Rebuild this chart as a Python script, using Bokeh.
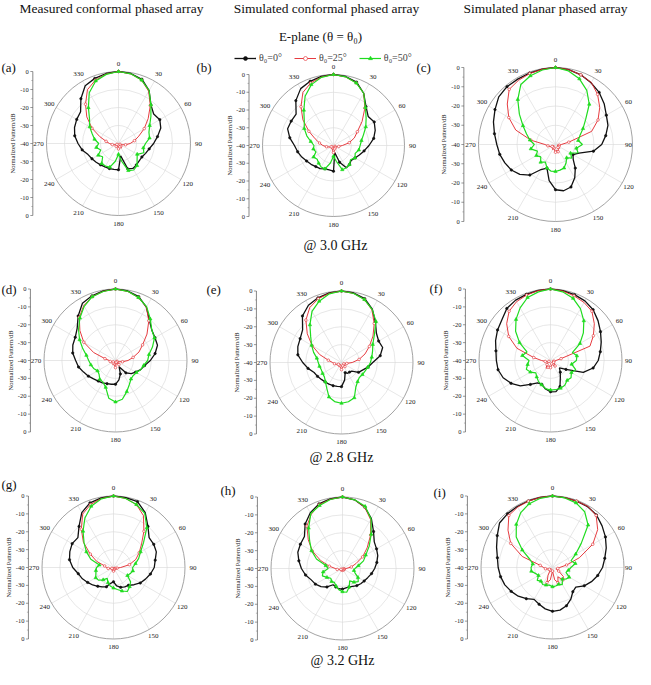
import numpy as np
from bokeh.plotting import figure
from bokeh.models import Range1d, Legend, LegendItem
from bokeh.embed import file_html
from bokeh.resources import INLINE
from bokeh.core.properties import value

# ---------------- data (dB at angles 0..350 step 10, clockwise from top) ----------------
ANGLES = list(range(0, 360, 10))

A_BLACK = [0,-0.5,-2,-6,-12,-14.5,-13.5,-15,-18,-20.5,-22.7,-24,-25,-25,-24.5,-24,-25,-33,-25.4,-25.4,
           -25.2,-25,-24.5,-23.8,-23,-22,-19.5,-17.5,-15.3,-14,-13.2,-12.5,-7.5,-3,-1.5,-0.5]
A_RED = [0,-0.8,-2.5,-6.5,-12.5,-18.5,-23.5,-28,-31,-33.5,-36,-38,-39,-39,-38,-37,-38,-39,-37,-38,
         -39,-39,-38,-39,-39,-38,-36.5,-35,-33,-29,-23,-17,-11.5,-5.5,-2.5,-0.8]
A_GREEN = [0,-0.7,-2.5,-6,-12,-16.5,-20,-22,-22.5,-25,-26,-25,-28,-26.5,-24,-23,-24,-30,-34,-30,
           -26,-25.5,-25.5,-28.5,-27,-29.5,-27.5,-29,-26.5,-24.5,-21.5,-19,-14,-7.5,-3,-1]

B_BLACK = [0,-0.5,-2,-6,-11.5,-14.5,-13.5,-15,-17,-20,-22.5,-24.5,-26,-27,-26,-25.5,-30,-36,-25.5,-26,
           -26,-25,-24.5,-23.5,-22.5,-21,-19.5,-18,-15,-12.5,-12.5,-12.5,-7,-3,-1.5,-0.5]
B_RED = [0,-0.8,-2.5,-6,-12.5,-19,-24.5,-27.5,-31,-35,-37,-38,-39,-39,-38.5,-38,-38,-37,-36,-37,
         -38.5,-39,-39,-39,-38.5,-37.5,-36,-34,-32,-29,-24,-17.5,-11.5,-5.5,-2.5,-0.8]
B_GREEN = [0,-0.7,-2.5,-6,-12,-16,-19,-22,-24,-25,-25.5,-27,-26,-27.5,-26,-25.5,-25.5,-31,-34,-30,
           -26,-26,-27,-28,-27,-29.5,-28.5,-29,-27,-24,-21,-18.5,-14,-8,-3.5,-1]

C_BLACK = [0,-0.5,-1.5,-3,-4.7,-7,-9.5,-11,-13.5,-16,-20,-27,-29.5,-28,-24,-20,-16.5,-15.6,-16.5,-21,
           -27,-25,-19.3,-15.8,-13.5,-12,-10.6,-9.5,-7.8,-5.7,-3.7,-1.5,-0.8,-0.8,-0.5,-0.2]
C_RED = [0,-0.5,-1.5,-2.8,-6,-10,-14.5,-20,-33,-37,-38,-39,-38,-37,-38,-37,-36,-37,-36,-37,
         -38,-37,-38,-39,-38,-37,-36,-34.5,-27,-18,-12,-7.3,-2.6,-1.5,-0.8,-0.3]
C_GREEN = [0,-1.2,-3.7,-7.5,-12.7,-19.5,-23.5,-26.5,-28,-26,-29,-27.5,-31,-29,-31,-29,-27,-26.5,-26,-26,
           -27,-29.5,-28,-30,-28.5,-30,-27,-29,-26.5,-24,-20.5,-15.5,-9.5,-4,-2,-0.7]

D_BLACK = [0,-0.5,-2,-5.5,-10.5,-13.5,-14.5,-15,-17.5,-20.5,-23.5,-25,-27,-28.5,-31,-36,-32,-29,-26.7,-26.5,
           -26.2,-25.5,-25,-24,-22.5,-21,-19,-17.7,-15.7,-14.6,-14,-12,-7.5,-3,-1.5,-0.5]
D_RED = [0,-0.8,-2.5,-5.5,-11,-17,-22.5,-26,-30,-33,-36,-38,-39,-38,-37,-38,-39,-38,-36,-37,
         -38,-39,-38,-39,-38.5,-38,-37,-36.5,-34,-27,-19.5,-14,-8.5,-4.5,-2,-0.7]
D_GREEN = [0,-0.7,-2.5,-5.2,-9.7,-13.5,-14.8,-18,-21,-22,-24,-25,-26.5,-27,-26.5,-24.5,-21.5,-18,-16.8,-18.5,
           -24,-26,-26.3,-28,-28.4,-27,-26,-25,-23.5,-20.5,-16.8,-13,-9,-5,-2,-0.8]

E_BLACK = [0,-0.5,-2,-5.5,-10.5,-14.5,-16,-15.5,-18,-22.5,-25,-27.5,-29,-32.5,-33,-33,-34,-30,-26.5,-26.4,
           -26.2,-26,-25.8,-25.3,-24.5,-23.7,-21,-18.3,-15.2,-14,-13.3,-11.6,-6,-3,-1.5,-0.5]
E_RED = [0,-0.8,-2.5,-6,-11.5,-17,-22,-26,-30,-34,-37,-38,-38.5,-38,-37,-37.5,-38,-37,-36,-37,
         -38,-38.5,-38,-38.5,-38,-37,-36,-35,-32.5,-27,-21,-15,-9,-4.5,-2,-0.7]
E_GREEN = [0,-0.8,-2.5,-5.7,-10,-16,-19.8,-21.5,-22.8,-23.8,-25,-26,-26.5,-27,-26,-24,-19,-17.7,-17.2,-17.8,
           -19.5,-23.5,-26,-27.5,-27.8,-28,-27.5,-27,-26,-23.4,-20.7,-17.5,-12.5,-7,-3.5,-1]

F_BLACK = [0,-0.3,-0.8,-1.5,-2.9,-5.3,-7.7,-9.8,-11.7,-13.3,-15.8,-20.5,-30,-33.5,-31.5,-29,-24.5,-22.3,-22.5,-23.8,
           -25.8,-25.6,-22.5,-18,-14.5,-11.8,-10.2,-9.7,-9,-7.3,-5.8,-4.5,-2,-1,-0.6,-0.2]
F_RED = [0,-0.5,-1.5,-2.5,-4,-8,-12.3,-16.5,-34,-37,-38,-39,-38,-37,-36,-37,-38,-37,-36,-37,
         -36,-35,-37,-38,-39,-38,-37,-35,-30.5,-20,-13,-8,-4,-2,-1,-0.3]
F_GREEN = [0,-1,-3,-6.5,-11,-16,-21,-27,-25,-25.5,-28,-25,-26.5,-25,-25.5,-24,-23.5,-23.4,-23.5,-24,
           -25.5,-26.5,-28,-29.3,-27,-25.6,-27,-28,-24,-26,-20,-14.5,-10,-6,-2.5,-1]

G_BLACK = [0,-0.3,-0.8,-4.5,-10,-14,-14,-14.5,-16.3,-17.2,-19,-21,-22.7,-25,-27,-27.5,-28.2,-29.5,-32,-31,
           -28.5,-27.5,-26.3,-24.8,-23.3,-21.5,-20,-17.2,-15,-14,-13.3,-14,-10,-4.5,-1.5,-0.5]
G_RED = [0,-0.8,-2.5,-6.5,-13.5,-19.5,-23.4,-26.7,-31,-36,-38,-39,-39,-38.5,-39,-39,-39,-38.5,-38,-39,
         -39,-39,-39,-39,-39,-38.5,-37,-36,-35,-30,-25,-18,-12,-5.5,-2.5,-0.8]
G_GREEN = [0,-0.8,-2.5,-5,-11,-18,-22.5,-25,-27.5,-29.3,-29,-30,-31,-27.5,-26,-24.5,-26,-27.5,-28.5,-29.5,
           -31,-33,-31,-29,-28.5,-29.5,-30,-30.5,-32,-26.5,-22.5,-18.5,-13.5,-8,-3.5,-1]

H_BLACK = [0,-1,-3.5,-7.7,-13,-16.8,-18,-19,-20.5,-22,-23.5,-25,-26,-26.7,-27.5,-28.5,-29,-29,-28.5,-28.5,
           -29,-29.5,-26.5,-24.3,-22.5,-21.4,-19,-17,-15.2,-13.4,-12.8,-12.2,-7.5,-4,-1.5,-0.5]
H_RED = [0,-1,-3.5,-8.5,-15.5,-22,-27,-32,-35,-38,-39,-39,-39,-39.5,-39,-39,-39.5,-39,-39,-39,
         -39.5,-39,-39,-39.5,-39,-38.5,-37,-36,-32.5,-27,-20.5,-15,-9,-5,-2,-0.7]
H_GREEN = [0,-1,-3,-8,-15,-20.5,-25,-27.5,-31,-33,-33.5,-32.5,-30,-28.5,-30,-32,-29,-26.5,-27,-28,
           -29.5,-31,-30.5,-31.5,-30,-28,-29,-32,-30.5,-24.5,-20,-16,-10.5,-4.5,-2.5,-0.8]

I_BLACK = [0,-0.3,-0.5,-0.7,-1.7,-3.8,-5.8,-8,-10.3,-12,-14.3,-16.8,-19.5,-23,-22.3,-19.5,-17.2,-15.8,-15.5,-16.5,
           -18.1,-19.4,-17.2,-15,-13.3,-11.6,-10.5,-9.6,-8.7,-6.7,-4.3,-1.3,-0.8,-0.6,-0.4,-0.2]
I_RED = [0,-0.3,-0.5,-0.5,-2,-7,-14,-24,-32,-36,-37,-38,-36,-32,-31,-34,-31,-33,-38,-33,
         -31,-35,-38,-39,-38,-37.5,-36,-35,-33,-22,-13,-7.5,-2,-1,-0.5,-0.2]
I_GREEN = [0,-0.5,-1.5,-4,-9,-19,-25,-29,-27,-29.7,-31,-32,-29.2,-30,-31.5,-29,-30,-29.5,-29.2,-30,
           -29.5,-29,-30,-28.8,-31,-30,-28,-28,-28.8,-26.5,-20.5,-13.5,-8.5,-4.5,-2,-0.7]

RING_DB = [-30, -20, -10]
TICK_DB = [0, -10, -20, -30, -40]
MINOR_DB = [-5, -15, -25, -35]
DB_MIN = -40
SPOKE_ANGLES = list(range(0, 360, 30))
COL_TITLES = ["Measured conformal phased array", "Simulated conformal phased array",
              "Simulated planar phased array"]
FREQ_LABELS = ["@ 3.0 GHz", "@ 2.8 GHz", "@ 3.2 GHz"]
SERIES_LABELS = ["θ\u2080=0°", "θ\u2080=25°", "θ\u2080=50°"]
PLANE_TITLE = "E-plane (θ = θ\u2080)"
AXIS_TITLE = "Normalized Pattern/dB"
PANEL_TAGS = ["(a)", "(b)", "(c)", "(d)", "(e)", "(f)", "(g)", "(h)", "(i)"]
PANEL_DATA = [(A_BLACK, A_RED, A_GREEN), (B_BLACK, B_RED, B_GREEN), (C_BLACK, C_RED, C_GREEN),
              (D_BLACK, D_RED, D_GREEN), (E_BLACK, E_RED, E_GREEN), (F_BLACK, F_RED, F_GREEN),
              (G_BLACK, G_RED, G_GREEN), (H_BLACK, H_RED, H_GREEN), (I_BLACK, I_RED, I_GREEN)]

# ---------------- layout (page pixel positions) ----------------
PANEL_POS = [  # cx, cy, radius, tag x, tag y
    (126, 151, 72, 9, 75), (341, 153, 71, 204, 75), (563, 152, 77, 424, 75),
    (123, 368, 71.5, 9, 297), (349, 370, 71.5, 214, 297), (558, 368, 71.5, 437, 296),
    (121, 575, 71.5, 9, 492), (350, 576, 71.5, 228, 498), (560, 575, 71.5, 441, 500),
]
COL_TITLE_POS = [(119, 16), (334, 16), (553, 16)]
FREQ_POS = [(343, 253), (349, 465), (350, 668)]
X_MAX_LABEL = 636

FONT = "Liberation Serif"
BLACK, RED, GREEN = "#111111", "#e3262b", "#1fdc1f"

W, H = 635, 669
p = figure(width=W, height=H, x_range=Range1d(8, 8 + W), y_range=Range1d(8 + H, 8),
           output_backend="svg", toolbar_location=None, x_axis_type=None, y_axis_type=None,
           min_border=0)
p.outline_line_color = None
p.background_fill_color = "white"
p.border_fill_color = "white"


def to_xy(cx, cy, r, angs, dbs):
    a = np.radians(np.asarray(angs, dtype=float))
    rho = (np.clip(np.asarray(dbs, dtype=float), DB_MIN, 0) - DB_MIN) / (-DB_MIN) * r
    return cx + rho * np.sin(a), cy - rho * np.cos(a)


def rad_of(db, r):
    return (db - DB_MIN) / (-DB_MIN) * r


legend_renderers = None
for tag, (cx, cy, r, tx, ty), data in zip(PANEL_TAGS, PANEL_POS, PANEL_DATA):
    # polar grid
    p.circle(x=[cx] * len(RING_DB), y=[cy] * len(RING_DB), radius=[rad_of(d, r) for d in RING_DB],
             fill_color=None, line_color="#d6d6d6", line_width=0.6)
    sx, sy = to_xy(cx, cy, r, SPOKE_ANGLES, [0] * len(SPOKE_ANGLES))
    p.segment(x0=[cx] * len(SPOKE_ANGLES), y0=[cy] * len(SPOKE_ANGLES), x1=sx, y1=sy,
              line_color="#d6d6d6", line_width=0.6)
    p.circle(x=[cx], y=[cy], radius=[r], fill_color=None, line_color="#8c8c8c", line_width=0.8)
    lx, ly = to_xy(cx, cy, r + 8, SPOKE_ANGLES, [0] * len(SPOKE_ANGLES))
    lx = np.minimum(lx, X_MAX_LABEL)
    p.text(x=lx, y=ly, text=[str(a) for a in SPOKE_ANGLES], text_font=value(FONT),
           text_font_size="7px", text_align="center", text_baseline="middle", text_color="#222222")

    # radial axis on the left
    ax = cx - 1.19 * r
    p.segment(x0=[ax], y0=[cy - r], x1=[ax], y1=[cy + r], line_color="#555555", line_width=0.7)
    maj_db = TICK_DB + TICK_DB[:-1][::-1]
    maj_y = [cy - rad_of(d, r) for d in TICK_DB] + [cy + rad_of(d, r) for d in TICK_DB[:-1][::-1]]
    p.segment(x0=[ax - 2.5] * len(maj_y), y0=maj_y, x1=[ax] * len(maj_y), y1=maj_y,
              line_color="#555555", line_width=0.6)
    min_y = [cy - rad_of(d, r) for d in MINOR_DB] + [cy + rad_of(d, r) for d in MINOR_DB]
    p.segment(x0=[ax - 1.5] * len(min_y), y0=min_y, x1=[ax] * len(min_y), y1=min_y,
              line_color="#777777", line_width=0.5)
    p.text(x=[ax - 4] * len(maj_y), y=maj_y, text=[f"{d:g}" for d in maj_db], text_font=value(FONT),
           text_font_size="6.5px", text_align="right", text_baseline="middle", text_color="#222222")
    p.text(x=[ax - 20], y=[cy], text=[AXIS_TITLE], angle=np.pi / 2, text_font=value(FONT),
           text_font_size="6.5px", text_align="center", text_baseline="middle", text_color="#222222")

    # panel tag
    p.text(x=[tx], y=[ty], text=[tag], text_font=value(FONT), text_font_size="13px",
           text_align="left", text_baseline="middle", text_color="#111111")

    # curves
    rends = []
    styles = [
        dict(color=BLACK, lw=1.3, marker="circle", size=2.4, fill=BLACK),
        dict(color=RED, lw=0.9, marker="circle", size=2.6, fill="white"),
        dict(color=GREEN, lw=1.2, marker="triangle", size=3.4, fill=GREEN),
    ]
    for dbs, st in zip(data, styles):
        angs = ANGLES + [ANGLES[0] + 360]
        vals = list(dbs) + [dbs[0]]
        x, y = to_xy(cx, cy, r, angs, vals)
        lr = p.line(x=x, y=y, line_color=st["color"], line_width=st["lw"])
        mr = p.scatter(x=x[:-1:2], y=y[:-1:2], marker=st["marker"], size=st["size"],
                       fill_color=st["fill"], line_color=st["color"], line_width=0.6)
        rends.append([lr, mr])
    if legend_renderers is None:
        legend_renderers = rends

# titles
for t, (x, y) in zip(COL_TITLES, COL_TITLE_POS):
    p.text(x=[x], y=[y], text=[t], text_font=value(FONT), text_font_size="13.5px",
           text_align="center", text_baseline="middle", text_color="#111111")
p.text(x=[328], y=[44], text=[PLANE_TITLE], text_font=value(FONT), text_font_size="13px",
       text_align="center", text_baseline="middle", text_color="#111111")
for t, (x, y) in zip(FREQ_LABELS, FREQ_POS):
    p.text(x=[x], y=[y], text=[t], text_font=value(FONT), text_font_size="14px",
           text_align="center", text_baseline="middle", text_color="#111111")

legend = Legend(items=[LegendItem(label=lab, renderers=rr) for lab, rr in zip(SERIES_LABELS, legend_renderers)],
                orientation="horizontal", location=(234, 606), glyph_width=22, glyph_height=10,
                label_text_font=FONT, label_text_font_size="10px", padding=0, margin=0, spacing=12,
                label_standoff=3, border_line_color=None, background_fill_alpha=0)
p.add_layout(legend)

open("out.html", "w").write(file_html(p, INLINE))
